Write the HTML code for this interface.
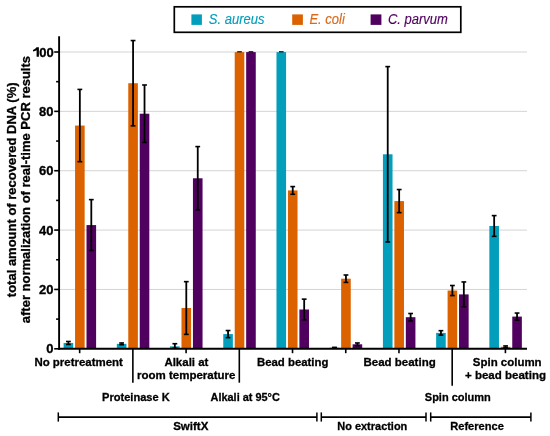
<!DOCTYPE html>
<html><head><meta charset="utf-8"><style>
html,body{margin:0;padding:0;background:#fff;width:550px;height:436px;overflow:hidden}
svg{display:block;will-change:transform}
text{font-family:"Liberation Sans",sans-serif}
.b{font-weight:bold;fill:#000;stroke:#000;stroke-width:0.3px}
.i{font-style:italic;stroke-width:0.15px}
</style></head><body>
<svg width="550" height="436" viewBox="0 0 550 436">
<rect width="550" height="436" fill="#fff"/>
<line x1="60" y1="289.44" x2="527" y2="289.44" stroke="#d4d4d4" stroke-width="1"/>
<line x1="60" y1="230.08" x2="527" y2="230.08" stroke="#d4d4d4" stroke-width="1"/>
<line x1="60" y1="170.72" x2="527" y2="170.72" stroke="#d4d4d4" stroke-width="1"/>
<line x1="60" y1="111.36" x2="527" y2="111.36" stroke="#d4d4d4" stroke-width="1"/>
<line x1="60" y1="52.00" x2="527" y2="52.00" stroke="#d4d4d4" stroke-width="1"/>
<rect x="63.60" y="342.97" width="9.6" height="5.83" fill="#039ebb"/>
<rect x="75.05" y="125.56" width="9.6" height="223.24" fill="#dc6200"/>
<rect x="86.50" y="225.08" width="9.6" height="123.72" fill="#50005e"/>
<rect x="116.82" y="343.86" width="9.6" height="4.94" fill="#039ebb"/>
<rect x="128.27" y="83.20" width="9.6" height="265.60" fill="#dc6200"/>
<rect x="139.72" y="113.71" width="9.6" height="235.09" fill="#50005e"/>
<rect x="170.04" y="346.37" width="9.6" height="2.43" fill="#039ebb"/>
<rect x="181.49" y="308.02" width="9.6" height="40.78" fill="#dc6200"/>
<rect x="192.94" y="178.28" width="9.6" height="170.52" fill="#50005e"/>
<rect x="223.26" y="334.08" width="9.6" height="14.72" fill="#039ebb"/>
<rect x="234.71" y="52.10" width="9.6" height="296.70" fill="#dc6200"/>
<rect x="246.16" y="52.10" width="9.6" height="296.70" fill="#50005e"/>
<rect x="276.48" y="52.10" width="9.6" height="296.70" fill="#039ebb"/>
<rect x="287.93" y="190.43" width="9.6" height="158.37" fill="#dc6200"/>
<rect x="299.38" y="309.50" width="9.6" height="39.30" fill="#50005e"/>
<rect x="329.70" y="347.71" width="9.6" height="1.09" fill="#039ebb"/>
<rect x="341.15" y="278.69" width="9.6" height="70.11" fill="#dc6200"/>
<rect x="352.60" y="344.30" width="9.6" height="4.50" fill="#50005e"/>
<rect x="382.92" y="154.29" width="9.6" height="194.51" fill="#039ebb"/>
<rect x="394.37" y="201.09" width="9.6" height="147.71" fill="#dc6200"/>
<rect x="405.82" y="317.20" width="9.6" height="31.60" fill="#50005e"/>
<rect x="436.14" y="332.90" width="9.6" height="15.90" fill="#039ebb"/>
<rect x="447.59" y="290.54" width="9.6" height="58.26" fill="#dc6200"/>
<rect x="459.04" y="294.39" width="9.6" height="54.41" fill="#50005e"/>
<rect x="489.36" y="225.97" width="9.6" height="122.83" fill="#039ebb"/>
<rect x="500.81" y="346.82" width="9.6" height="1.98" fill="#dc6200"/>
<rect x="512.26" y="316.61" width="9.6" height="32.19" fill="#50005e"/>
<line x1="68.40" y1="341.49" x2="68.40" y2="344.45" stroke="#000" stroke-width="1.8"/>
<line x1="66.00" y1="341.49" x2="70.80" y2="341.49" stroke="#000" stroke-width="1.6"/>
<line x1="66.00" y1="344.45" x2="70.80" y2="344.45" stroke="#000" stroke-width="1.6"/>
<line x1="79.85" y1="89.42" x2="79.85" y2="161.69" stroke="#000" stroke-width="1.8"/>
<line x1="77.45" y1="89.42" x2="82.25" y2="89.42" stroke="#000" stroke-width="1.6"/>
<line x1="77.45" y1="161.69" x2="82.25" y2="161.69" stroke="#000" stroke-width="1.6"/>
<line x1="91.30" y1="199.61" x2="91.30" y2="250.55" stroke="#000" stroke-width="1.8"/>
<line x1="88.90" y1="199.61" x2="93.70" y2="199.61" stroke="#000" stroke-width="1.6"/>
<line x1="88.90" y1="250.55" x2="93.70" y2="250.55" stroke="#000" stroke-width="1.6"/>
<line x1="121.62" y1="342.97" x2="121.62" y2="344.75" stroke="#000" stroke-width="1.8"/>
<line x1="119.22" y1="342.97" x2="124.02" y2="342.97" stroke="#000" stroke-width="1.6"/>
<line x1="119.22" y1="344.75" x2="124.02" y2="344.75" stroke="#000" stroke-width="1.6"/>
<line x1="133.07" y1="40.55" x2="133.07" y2="125.85" stroke="#000" stroke-width="1.8"/>
<line x1="130.67" y1="40.55" x2="135.47" y2="40.55" stroke="#000" stroke-width="1.6"/>
<line x1="130.67" y1="125.85" x2="135.47" y2="125.85" stroke="#000" stroke-width="1.6"/>
<line x1="144.52" y1="84.98" x2="144.52" y2="142.44" stroke="#000" stroke-width="1.8"/>
<line x1="142.12" y1="84.98" x2="146.92" y2="84.98" stroke="#000" stroke-width="1.6"/>
<line x1="142.12" y1="142.44" x2="146.92" y2="142.44" stroke="#000" stroke-width="1.6"/>
<line x1="174.84" y1="343.71" x2="174.84" y2="348.30" stroke="#000" stroke-width="1.8"/>
<line x1="172.44" y1="343.71" x2="177.24" y2="343.71" stroke="#000" stroke-width="1.6"/>
<line x1="172.44" y1="348.30" x2="177.24" y2="348.30" stroke="#000" stroke-width="1.6"/>
<line x1="186.29" y1="281.65" x2="186.29" y2="334.38" stroke="#000" stroke-width="1.8"/>
<line x1="183.89" y1="281.65" x2="188.69" y2="281.65" stroke="#000" stroke-width="1.6"/>
<line x1="183.89" y1="334.38" x2="188.69" y2="334.38" stroke="#000" stroke-width="1.6"/>
<line x1="197.74" y1="146.59" x2="197.74" y2="209.97" stroke="#000" stroke-width="1.8"/>
<line x1="195.34" y1="146.59" x2="200.14" y2="146.59" stroke="#000" stroke-width="1.6"/>
<line x1="195.34" y1="209.97" x2="200.14" y2="209.97" stroke="#000" stroke-width="1.6"/>
<line x1="228.06" y1="330.53" x2="228.06" y2="337.64" stroke="#000" stroke-width="1.8"/>
<line x1="225.66" y1="330.53" x2="230.46" y2="330.53" stroke="#000" stroke-width="1.6"/>
<line x1="225.66" y1="337.64" x2="230.46" y2="337.64" stroke="#000" stroke-width="1.6"/>
<line x1="237.21" y1="51.80" x2="241.81" y2="51.80" stroke="#000" stroke-width="1.2"/>
<line x1="248.66" y1="51.80" x2="253.26" y2="51.80" stroke="#000" stroke-width="1.2"/>
<line x1="278.98" y1="51.80" x2="283.58" y2="51.80" stroke="#000" stroke-width="1.2"/>
<line x1="292.73" y1="186.57" x2="292.73" y2="194.28" stroke="#000" stroke-width="1.8"/>
<line x1="290.33" y1="186.57" x2="295.13" y2="186.57" stroke="#000" stroke-width="1.6"/>
<line x1="290.33" y1="194.28" x2="295.13" y2="194.28" stroke="#000" stroke-width="1.6"/>
<line x1="304.18" y1="299.13" x2="304.18" y2="319.86" stroke="#000" stroke-width="1.8"/>
<line x1="301.78" y1="299.13" x2="306.58" y2="299.13" stroke="#000" stroke-width="1.6"/>
<line x1="301.78" y1="319.86" x2="306.58" y2="319.86" stroke="#000" stroke-width="1.6"/>
<line x1="334.50" y1="347.35" x2="334.50" y2="348.06" stroke="#000" stroke-width="1.8"/>
<line x1="332.10" y1="347.35" x2="336.90" y2="347.35" stroke="#000" stroke-width="1.6"/>
<line x1="332.10" y1="348.06" x2="336.90" y2="348.06" stroke="#000" stroke-width="1.6"/>
<line x1="345.95" y1="274.99" x2="345.95" y2="282.40" stroke="#000" stroke-width="1.8"/>
<line x1="343.55" y1="274.99" x2="348.35" y2="274.99" stroke="#000" stroke-width="1.6"/>
<line x1="343.55" y1="282.40" x2="348.35" y2="282.40" stroke="#000" stroke-width="1.6"/>
<line x1="357.40" y1="342.97" x2="357.40" y2="345.63" stroke="#000" stroke-width="1.8"/>
<line x1="355.00" y1="342.97" x2="359.80" y2="342.97" stroke="#000" stroke-width="1.6"/>
<line x1="355.00" y1="345.63" x2="359.80" y2="345.63" stroke="#000" stroke-width="1.6"/>
<line x1="387.72" y1="66.61" x2="387.72" y2="241.96" stroke="#000" stroke-width="1.8"/>
<line x1="385.32" y1="66.61" x2="390.12" y2="66.61" stroke="#000" stroke-width="1.6"/>
<line x1="385.32" y1="241.96" x2="390.12" y2="241.96" stroke="#000" stroke-width="1.6"/>
<line x1="399.17" y1="189.54" x2="399.17" y2="212.64" stroke="#000" stroke-width="1.8"/>
<line x1="396.77" y1="189.54" x2="401.57" y2="189.54" stroke="#000" stroke-width="1.6"/>
<line x1="396.77" y1="212.64" x2="401.57" y2="212.64" stroke="#000" stroke-width="1.6"/>
<line x1="410.62" y1="313.50" x2="410.62" y2="320.90" stroke="#000" stroke-width="1.8"/>
<line x1="408.22" y1="313.50" x2="413.02" y2="313.50" stroke="#000" stroke-width="1.6"/>
<line x1="408.22" y1="320.90" x2="413.02" y2="320.90" stroke="#000" stroke-width="1.6"/>
<line x1="440.94" y1="330.68" x2="440.94" y2="335.12" stroke="#000" stroke-width="1.8"/>
<line x1="438.54" y1="330.68" x2="443.34" y2="330.68" stroke="#000" stroke-width="1.6"/>
<line x1="438.54" y1="335.12" x2="443.34" y2="335.12" stroke="#000" stroke-width="1.6"/>
<line x1="452.39" y1="285.51" x2="452.39" y2="295.58" stroke="#000" stroke-width="1.8"/>
<line x1="449.99" y1="285.51" x2="454.79" y2="285.51" stroke="#000" stroke-width="1.6"/>
<line x1="449.99" y1="295.58" x2="454.79" y2="295.58" stroke="#000" stroke-width="1.6"/>
<line x1="463.84" y1="281.95" x2="463.84" y2="306.83" stroke="#000" stroke-width="1.8"/>
<line x1="461.44" y1="281.95" x2="466.24" y2="281.95" stroke="#000" stroke-width="1.6"/>
<line x1="461.44" y1="306.83" x2="466.24" y2="306.83" stroke="#000" stroke-width="1.6"/>
<line x1="494.16" y1="215.60" x2="494.16" y2="236.34" stroke="#000" stroke-width="1.8"/>
<line x1="491.76" y1="215.60" x2="496.56" y2="215.60" stroke="#000" stroke-width="1.6"/>
<line x1="491.76" y1="236.34" x2="496.56" y2="236.34" stroke="#000" stroke-width="1.6"/>
<line x1="505.61" y1="345.93" x2="505.61" y2="347.71" stroke="#000" stroke-width="1.8"/>
<line x1="503.21" y1="345.93" x2="508.01" y2="345.93" stroke="#000" stroke-width="1.6"/>
<line x1="503.21" y1="347.71" x2="508.01" y2="347.71" stroke="#000" stroke-width="1.6"/>
<line x1="517.06" y1="313.05" x2="517.06" y2="320.16" stroke="#000" stroke-width="1.8"/>
<line x1="514.66" y1="313.05" x2="519.46" y2="313.05" stroke="#000" stroke-width="1.6"/>
<line x1="514.66" y1="320.16" x2="519.46" y2="320.16" stroke="#000" stroke-width="1.6"/>
<line x1="59.1" y1="36.2" x2="59.1" y2="349.70" stroke="#000" stroke-width="1.9"/>
<line x1="58.2" y1="348.80" x2="527" y2="348.80" stroke="#000" stroke-width="1.9"/>
<line x1="54.2" y1="348.80" x2="59.1" y2="348.80" stroke="#000" stroke-width="1.6"/>
<line x1="56.1" y1="319.12" x2="59.1" y2="319.12" stroke="#000" stroke-width="1.6"/>
<line x1="54.2" y1="289.44" x2="59.1" y2="289.44" stroke="#000" stroke-width="1.6"/>
<line x1="56.1" y1="259.76" x2="59.1" y2="259.76" stroke="#000" stroke-width="1.6"/>
<line x1="54.2" y1="230.08" x2="59.1" y2="230.08" stroke="#000" stroke-width="1.6"/>
<line x1="56.1" y1="200.40" x2="59.1" y2="200.40" stroke="#000" stroke-width="1.6"/>
<line x1="54.2" y1="170.72" x2="59.1" y2="170.72" stroke="#000" stroke-width="1.6"/>
<line x1="56.1" y1="141.04" x2="59.1" y2="141.04" stroke="#000" stroke-width="1.6"/>
<line x1="54.2" y1="111.36" x2="59.1" y2="111.36" stroke="#000" stroke-width="1.6"/>
<line x1="56.1" y1="81.68" x2="59.1" y2="81.68" stroke="#000" stroke-width="1.6"/>
<line x1="54.2" y1="52.00" x2="59.1" y2="52.00" stroke="#000" stroke-width="1.6"/>
<line x1="79.65" y1="348.80" x2="79.65" y2="353.2" stroke="#000" stroke-width="1.6"/>
<line x1="132.87" y1="348.80" x2="132.87" y2="382.7" stroke="#000" stroke-width="1.6"/>
<line x1="186.09" y1="348.80" x2="186.09" y2="353.2" stroke="#000" stroke-width="1.6"/>
<line x1="239.31" y1="348.80" x2="239.31" y2="382.7" stroke="#000" stroke-width="1.6"/>
<line x1="292.53" y1="348.80" x2="292.53" y2="353.2" stroke="#000" stroke-width="1.6"/>
<line x1="345.75" y1="348.80" x2="345.75" y2="353.2" stroke="#000" stroke-width="1.6"/>
<line x1="398.97" y1="348.80" x2="398.97" y2="353.2" stroke="#000" stroke-width="1.6"/>
<line x1="452.19" y1="348.80" x2="452.19" y2="385.8" stroke="#000" stroke-width="1.6"/>
<line x1="505.41" y1="348.80" x2="505.41" y2="353.2" stroke="#000" stroke-width="1.6"/>
<text x="53.4" y="353.30" text-anchor="end" class="b" font-size="13">0</text>
<text x="53.4" y="293.94" text-anchor="end" class="b" font-size="13">20</text>
<text x="53.4" y="234.58" text-anchor="end" class="b" font-size="13">40</text>
<text x="53.4" y="175.22" text-anchor="end" class="b" font-size="13">60</text>
<text x="53.4" y="115.86" text-anchor="end" class="b" font-size="13">80</text>
<text x="53.8" y="56.70" text-anchor="end" class="b" font-size="13">00</text>
<path d="M36.6 47.3 H38.9 V56.8 H36.6 V50.3 Q35.2 51.2 33.0 51.6 V49.9 Q35.5 49.0 36.6 47.3 Z" fill="#000"/>
<text x="34.40" y="365.8" class="b" font-size="11.75" textLength="88.5" lengthAdjust="spacingAndGlyphs">No pretreatment</text>
<text x="164.40" y="365.6" class="b" font-size="11.75" textLength="44" lengthAdjust="spacingAndGlyphs">Alkali at</text>
<text x="137.00" y="378.6" class="b" font-size="11.75" textLength="98.4" lengthAdjust="spacingAndGlyphs">room temperature</text>
<text x="257.00" y="365.5" class="b" font-size="11.75" textLength="71.4" lengthAdjust="spacingAndGlyphs">Bead beating</text>
<text x="363.50" y="365.5" class="b" font-size="11.75" textLength="72.2" lengthAdjust="spacingAndGlyphs">Bead beating</text>
<text x="472.80" y="365.8" class="b" font-size="11.75" textLength="68.8" lengthAdjust="spacingAndGlyphs">Spin column</text>
<text x="465.00" y="378.8" class="b" font-size="11.75" textLength="81" lengthAdjust="spacingAndGlyphs">+ bead beating</text>
<text x="102.00" y="401" class="b" font-size="11.75" textLength="67.8" lengthAdjust="spacingAndGlyphs">Proteinase K</text>
<text x="210.60" y="400.9" class="b" font-size="11.75" textLength="69.2" lengthAdjust="spacingAndGlyphs">Alkali at 95°C</text>
<text x="424.80" y="401.3" class="b" font-size="11.75" textLength="66" lengthAdjust="spacingAndGlyphs">Spin column</text>
<text x="173.20" y="429.9" class="b" font-size="11.75" textLength="35.2" lengthAdjust="spacingAndGlyphs">SwiftX</text>
<text x="337.30" y="430" class="b" font-size="11.75" textLength="70" lengthAdjust="spacingAndGlyphs">No extraction</text>
<text x="450.30" y="430.3" class="b" font-size="11.75" textLength="53.5" lengthAdjust="spacingAndGlyphs">Reference</text>
<line x1="58.3" y1="417.1" x2="316.9" y2="417.1" stroke="#000" stroke-width="1.7"/>
<line x1="58.3" y1="412.4" x2="58.3" y2="421.6" stroke="#000" stroke-width="1.5"/>
<line x1="316.9" y1="412.4" x2="316.9" y2="421.6" stroke="#000" stroke-width="1.5"/>
<line x1="321.3" y1="417.1" x2="426.0" y2="417.1" stroke="#000" stroke-width="1.7"/>
<line x1="321.3" y1="412.4" x2="321.3" y2="421.6" stroke="#000" stroke-width="1.5"/>
<line x1="426.0" y1="412.4" x2="426.0" y2="421.6" stroke="#000" stroke-width="1.5"/>
<line x1="430.7" y1="417.1" x2="530.9" y2="417.1" stroke="#000" stroke-width="1.7"/>
<line x1="430.7" y1="412.4" x2="430.7" y2="421.6" stroke="#000" stroke-width="1.5"/>
<line x1="530.9" y1="412.4" x2="530.9" y2="421.6" stroke="#000" stroke-width="1.5"/>
<text transform="translate(15.6,189.8) rotate(-90)" text-anchor="middle" class="b" font-size="13">total amount of recovered DNA (%)</text>
<text transform="translate(30.2,189.6) rotate(-90)" text-anchor="middle" class="b" font-size="13">after normalization of real-time PCR results</text>
<rect x="174.3" y="6.8" width="286.5" height="25.5" fill="none" stroke="#000" stroke-width="1.7"/>
<rect x="191.4" y="14.4" width="10.5" height="10.5" fill="#039ebb"/>
<rect x="292.2" y="14.4" width="10.7" height="10.5" fill="#dc6200"/>
<rect x="370.6" y="14.4" width="10.8" height="10.5" fill="#50005e"/>
<text x="208.8" y="24.3" class="i" font-size="13.8" textLength="55.66" lengthAdjust="spacingAndGlyphs" fill="#039ebb" stroke="#039ebb">S. aureus</text>
<text x="309.4" y="24.3" class="i" font-size="13.8" textLength="35.4" lengthAdjust="spacingAndGlyphs" fill="#d86a1a" stroke="#d86a1a">E. coli</text>
<text x="387.9" y="24.3" class="i" font-size="13.8" textLength="59.97" lengthAdjust="spacingAndGlyphs" fill="#50005e" stroke="#50005e">C. parvum</text>
</svg>
</body></html>
